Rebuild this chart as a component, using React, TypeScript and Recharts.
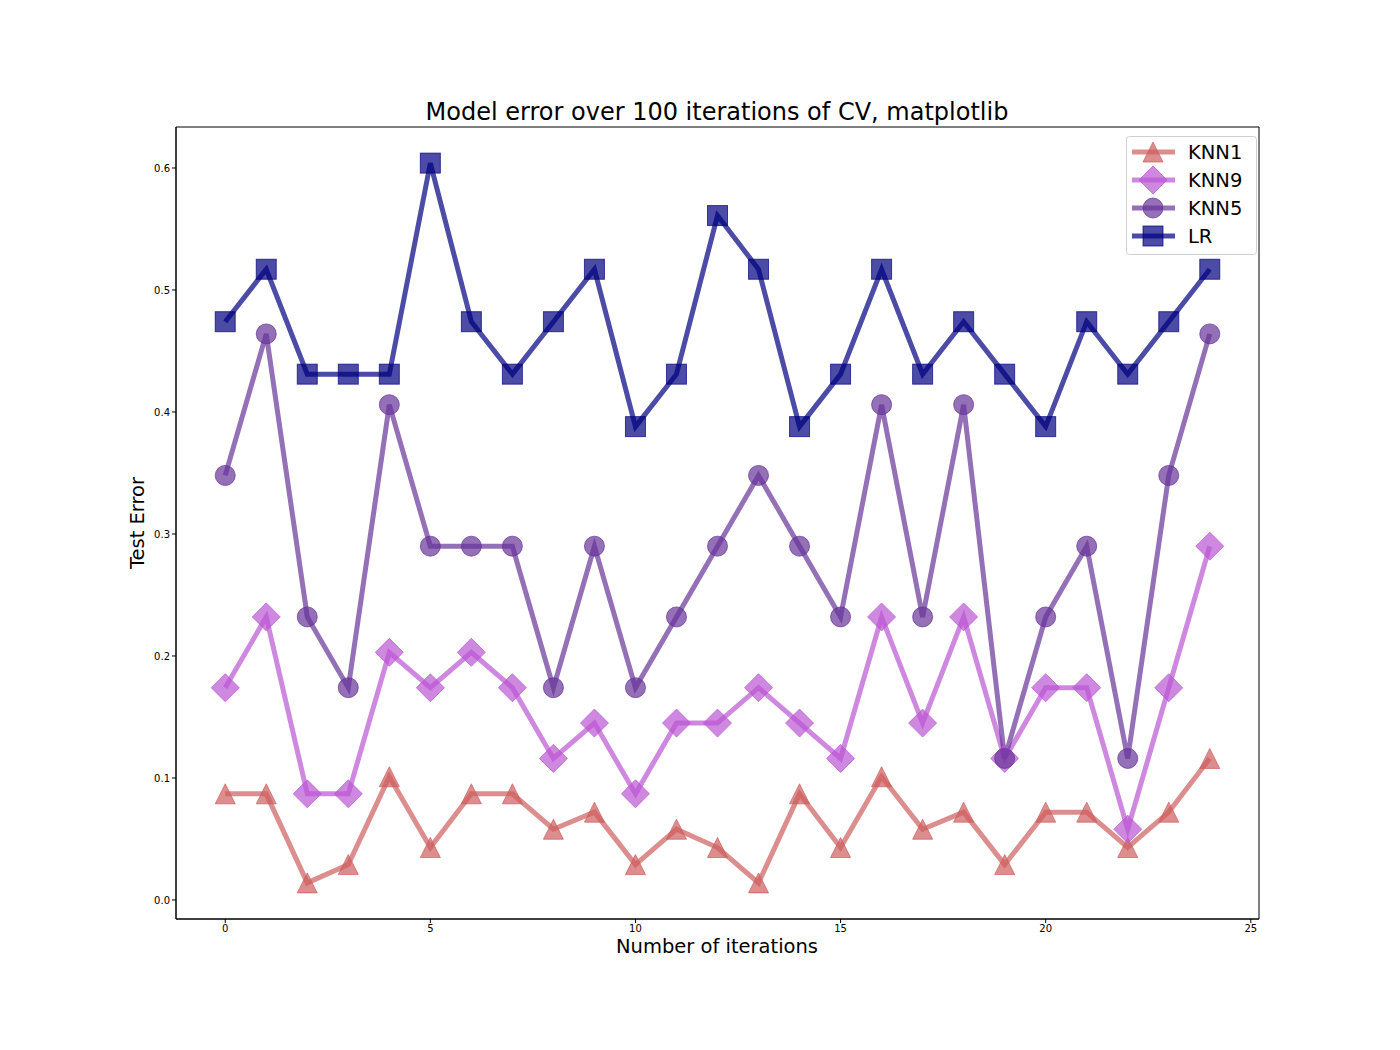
import React from "react";
import {
  LineChart,
  Line,
  XAxis,
  YAxis,
  ReferenceArea,
  Customized,
} from "recharts";

// values
const iterations = [
  0, 1, 2, 3, 4, 5, 6, 7, 8, 9, 10, 11, 12, 13, 14, 15, 16, 17, 18, 19, 20, 21,
  22, 23, 24,
];
const knn1 = [
  0.087, 0.087, 0.014, 0.029, 0.101, 0.043, 0.087, 0.087, 0.058, 0.072, 0.029,
  0.058, 0.043, 0.014, 0.087, 0.043, 0.101, 0.058, 0.072, 0.029, 0.072, 0.072,
  0.043, 0.072, 0.116,
];
const knn9 = [
  0.174, 0.232, 0.087, 0.087, 0.203, 0.174, 0.203, 0.174, 0.116, 0.145, 0.087,
  0.145, 0.145, 0.174, 0.145, 0.116, 0.232, 0.145, 0.232, 0.116, 0.174, 0.174,
  0.058, 0.174, 0.29,
];
const knn5 = [
  0.348, 0.464, 0.232, 0.174, 0.406, 0.29, 0.29, 0.29, 0.174, 0.29, 0.174,
  0.232, 0.29, 0.348, 0.29, 0.232, 0.406, 0.232, 0.406, 0.116, 0.232, 0.29,
  0.116, 0.348, 0.464,
];
const lr = [
  0.474, 0.517, 0.431, 0.431, 0.431, 0.604, 0.474, 0.431, 0.474, 0.517, 0.388,
  0.431, 0.561, 0.517, 0.388, 0.431, 0.517, 0.431, 0.474, 0.431, 0.388, 0.474,
  0.431, 0.474, 0.517,
];
const xTicks = [0, 5, 10, 15, 20, 25];
const yTicks = [0, 0.1, 0.2, 0.3, 0.4, 0.5, 0.6];

const data = iterations.map((it, i) => ({
  it,
  knn1: knn1[i],
  knn9: knn9[i],
  knn5: knn5[i],
  lr: lr[i],
}));

const FONT = "DejaVu Sans, sans-serif";
const ALPHA = 0.7;

type Shape = "triangle" | "diamond" | "circle" | "square";

const series: { key: string; name: string; color: string; shape: Shape }[] = [
  { key: "knn1", name: "KNN1", color: "#CD5C5C", shape: "triangle" },
  { key: "knn9", name: "KNN9", color: "#BA55D3", shape: "diamond" },
  { key: "knn5", name: "KNN5", color: "#663399", shape: "circle" },
  { key: "lr", name: "LR", color: "#000080", shape: "square" },
];

function Marker({
  cx,
  cy,
  shape,
  color,
}: {
  cx: number;
  cy: number;
  shape: Shape;
  color: string;
}) {
  const common = {
    fill: color,
    fillOpacity: ALPHA,
    stroke: color,
    strokeOpacity: ALPHA,
    strokeWidth: 1,
  };
  const s = 10;
  if (shape === "triangle")
    return (
      <path
        d={`M${cx},${cy - s} L${cx + s},${cy + s} L${cx - s},${cy + s} Z`}
        {...common}
      />
    );
  if (shape === "diamond")
    return (
      <path
        d={`M${cx},${cy - 14} L${cx + 14},${cy} L${cx},${cy + 14} L${cx - 14},${cy} Z`}
        {...common}
      />
    );
  if (shape === "circle") return <circle cx={cx} cy={cy} r={s} {...common} />;
  return <rect x={cx - s} y={cy - s} width={2 * s} height={2 * s} {...common} />;
}

function makeDot(shape: Shape, color: string) {
  return (props: any) => {
    if (props.cx == null || props.cy == null) return <g key={props.index} />;
    return (
      <Marker
        key={props.index}
        cx={props.cx}
        cy={props.cy}
        shape={shape}
        color={color}
      />
    );
  };
}

function Texts() {
  return (
    <g fontFamily={FONT}>
      <text x={717} y={120} fontSize={24} textAnchor="middle" fill="#000">
        Model error over 100 iterations of CV, matplotlib
      </text>
      <text x={717} y={953} fontSize={19.5} textAnchor="middle" fill="#000">
        Number of iterations
      </text>
      <text
        x={0}
        y={0}
        fontSize={19.5}
        textAnchor="middle"
        fill="#000"
        transform="translate(144,523) rotate(-90)"
      >
        Test Error
      </text>
      {/* legend */}
      <rect
        x={1126.5}
        y={136.5}
        width={130}
        height={118}
        rx={3}
        fill="#fff"
        fillOpacity={0.8}
        stroke="#d0d0d0"
      />
      {series.map((s, i) => {
        const y = 152 + i * 28;
        return (
          <g key={s.key}>
            <line
              x1={1132}
              x2={1175}
              y1={y}
              y2={y}
              stroke={s.color}
              strokeOpacity={ALPHA}
              strokeWidth={5}
            />
            <Marker cx={1153} cy={y} shape={s.shape} color={s.color} />
            <text x={1188} y={y + 7} fontSize={19.5} fill="#000">
              {s.name}
            </text>
          </g>
        );
      })}
    </g>
  );
}

export default function App() {
  return (
    <div style={{ position: "absolute", left: 0, top: 0, background: "#fff" }}>
      <LineChart
        width={1400}
        height={1050}
        data={data}
        margin={{ top: 127, right: 141, bottom: 71, left: 0 }}
      >
        <XAxis
          dataKey="it"
          type="number"
          domain={[-1.2, 25.2]}
          ticks={xTicks}
          allowDataOverflow
          height={60}
          tickSize={4}
          axisLine={{ stroke: "#000" }}
          tickLine={{ stroke: "#000" }}
          tick={{ fontSize: 10, fill: "#000", fontFamily: FONT }}
        />
        <YAxis
          type="number"
          domain={[-0.0156, 0.6336]}
          ticks={yTicks}
          allowDataOverflow
          width={176}
          tickSize={4}
          tickFormatter={(v: number) => v.toFixed(1)}
          axisLine={{ stroke: "#000" }}
          tickLine={{ stroke: "#000" }}
          tick={{ fontSize: 10, fill: "#000", fontFamily: FONT }}
        />
        <ReferenceArea
          x1={-1.2}
          x2={25.2}
          y1={-0.0156}
          y2={0.6336}
          fill="none"
          stroke="#000"
          strokeWidth={1}
          ifOverflow="visible"
        />
        {series.map((s) => (
          <Line
            key={s.key}
            dataKey={s.key}
            name={s.name}
            type="linear"
            stroke={s.color}
            strokeOpacity={ALPHA}
            strokeWidth={5}
            dot={makeDot(s.shape, s.color)}
            activeDot={false}
            isAnimationActive={false}
          />
        ))}
        <Customized component={Texts} />
      </LineChart>
    </div>
  );
}
